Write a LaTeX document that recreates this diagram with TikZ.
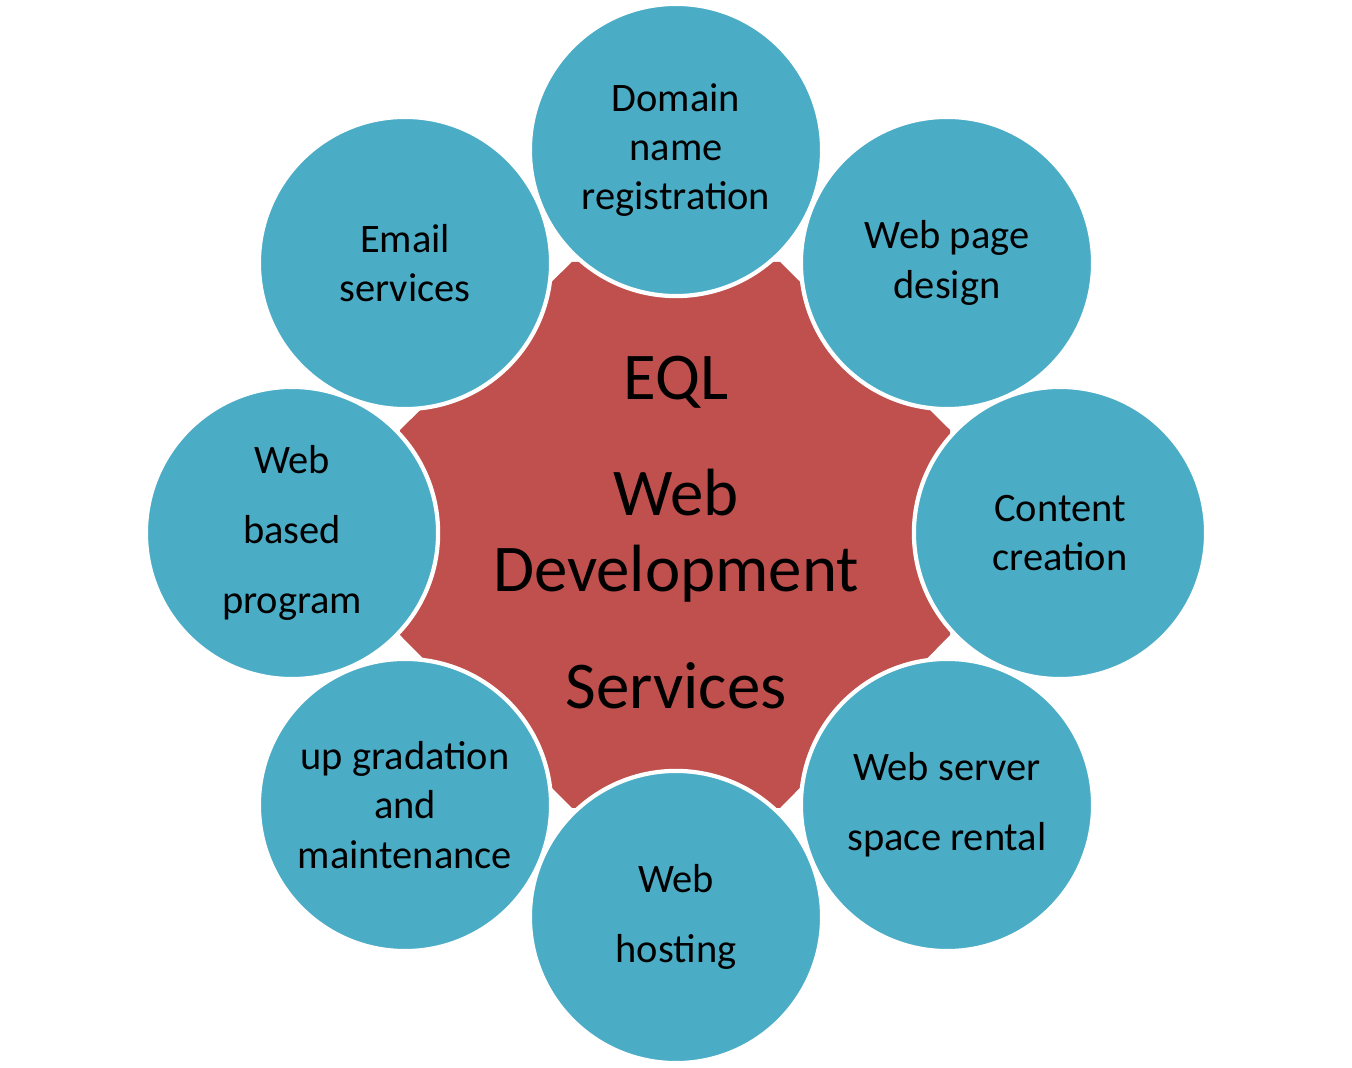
\documentclass[tikz,border=0pt]{standalone}
\usepackage{fontspec}
\setmainfont{Carlito}
\begin{document}
\begin{tikzpicture}[x=0.01cm,y=-0.01cm,
  bub/.style={circle,fill=cyan!45!teal!60!white,fill=bubc,draw=white,line width=1.2pt,minimum size=2.92cm,inner sep=0pt,align=center,font=\fontsize{11.5}{14}\selectfont},
  ctr/.style={font=\fontsize{19}{22}\selectfont}]
\definecolor{bubc}{HTML}{4BACC6}
\definecolor{redc}{HTML}{C0504D}
\useasboundingbox (0,0) rectangle (1352,1068);
\fill[redc] (950,430) -- (780,262) -- (572,262) -- (400,430) -- (400,635) -- (572,808) -- (780,808) -- (950,635) -- cycle;
\node[bub] (n1) at (676,150) {Domain\\name\\registration};
\node[bub] (n2) at (947,263) {Web page\\design};
\node[bub] (n3) at (1060,533) {Content\\creation};
\node[bub,font=\fontsize{11.5}{20}\selectfont] (n4) at (947,805) {Web server\\space rental};
\node[bub,font=\fontsize{11.5}{20}\selectfont] (n5) at (676,917) {Web\\hosting};
\node[bub] (n6) at (405,805) {up gradation\\and\\maintenance};
\node[bub,font=\fontsize{11.5}{20}\selectfont] (n7) at (292,533) {Web\\based\\program};
\node[bub] (n8) at (405,263) {Email\\services};
\node[ctr] (t1) at (676,382) {EQL};
\node[ctr] (t2) at (676,493) {Web};
\node[ctr] (t3) at (676,574) {Development};
\node[ctr] (t4) at (676,686) {Services};
\end{tikzpicture}
\end{document}
